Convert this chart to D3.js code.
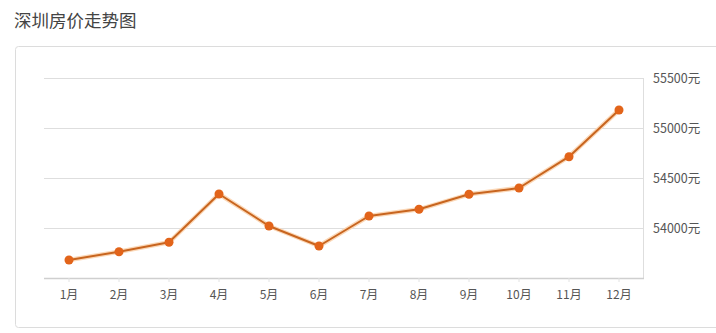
<!DOCTYPE html>
<html><head><meta charset="utf-8">
<script src="https://cdn.jsdelivr.net/npm/d3@7"></script>
<style>
body{margin:0;background:#fff;}
svg{display:block;font-family:"Noto Sans CJK SC","Noto Sans",sans-serif;}
</style></head>
<body><svg id="c" width="716" height="333"></svg>
<script>
const title = "深圳房价走势图";
const months = ["1月","2月","3月","4月","5月","6月","7月","8月","9月","10月","11月","12月"];
const prices = [53680,53763,53857,54340,54020,53820,54120,54187,54337,54400,54713,55180];
const yTicks = [54000,54500,55000,55500];
const yUnit = "元";

const svg = d3.select("#c");
svg.append("text").attr("x",14).attr("y",27).attr("font-size",17.5).attr("fill","#444").text(title);
svg.append("rect").attr("x",15.5).attr("y",46.5).attr("width",720).attr("height",281)
  .attr("rx",3).attr("fill","none").attr("stroke","#dcdcdc");

const L=44,R=644,T=78,B=278;
const x = d3.scaleBand().domain(months).range([L,R]);
const y = d3.scaleLinear().domain([53500,55500]).range([B,T]);

// grid
svg.append("g").selectAll("line").data(yTicks).join("line")
  .attr("x1",L).attr("x2",R).attr("y1",d=>Math.round(y(d))+0.5).attr("y2",d=>Math.round(y(d))+0.5)
  .attr("stroke","#dedede");
// right border
svg.append("line").attr("x1",R-0.5).attr("x2",R-0.5).attr("y1",T).attr("y2",B).attr("stroke","#dedede");

// y axis right
const ya = svg.append("g").attr("transform",`translate(${R},0)`)
  .call(d3.axisRight(y).tickValues(yTicks).tickSize(0).tickPadding(9).tickFormat(d=>d+yUnit));
ya.select(".domain").remove();
ya.selectAll("text").attr("font-size",12.5).attr("fill","#555").attr("font-family","\"Noto Sans CJK SC\",sans-serif");

// x axis
const xa = svg.append("g").attr("transform",`translate(0,${B})`)
  .call(d3.axisBottom(x).tickSize(4).tickPadding(8));
xa.select(".domain").attr("stroke","#cfcfcf").attr("stroke-width",1.5).attr("d",`M${L},0.5H${R}`);
xa.selectAll(".tick line").attr("stroke","#e2e2e2");
xa.selectAll("text").attr("font-size",12).attr("fill","#555").attr("font-family","\"Noto Sans CJK SC\",sans-serif");

// line
const cx = d=>x(d)+x.bandwidth()/2;
const line = d3.line().x((d,i)=>cx(months[i])).y(d=>y(d));
svg.append("path").datum(prices).attr("d",line).attr("fill","none")
  .attr("stroke","#fbd8b8").attr("stroke-width",4.5).attr("stroke-linejoin","round");
svg.append("path").datum(prices).attr("d",line).attr("fill","none")
  .attr("stroke","#c8651f").attr("stroke-width",2).attr("stroke-linejoin","round");
svg.append("g").selectAll("circle").data(prices).join("circle")
  .attr("cx",(d,i)=>cx(months[i])).attr("cy",d=>y(d)).attr("r",4.5)
  .attr("fill","#e2641a");
</script></body></html>
